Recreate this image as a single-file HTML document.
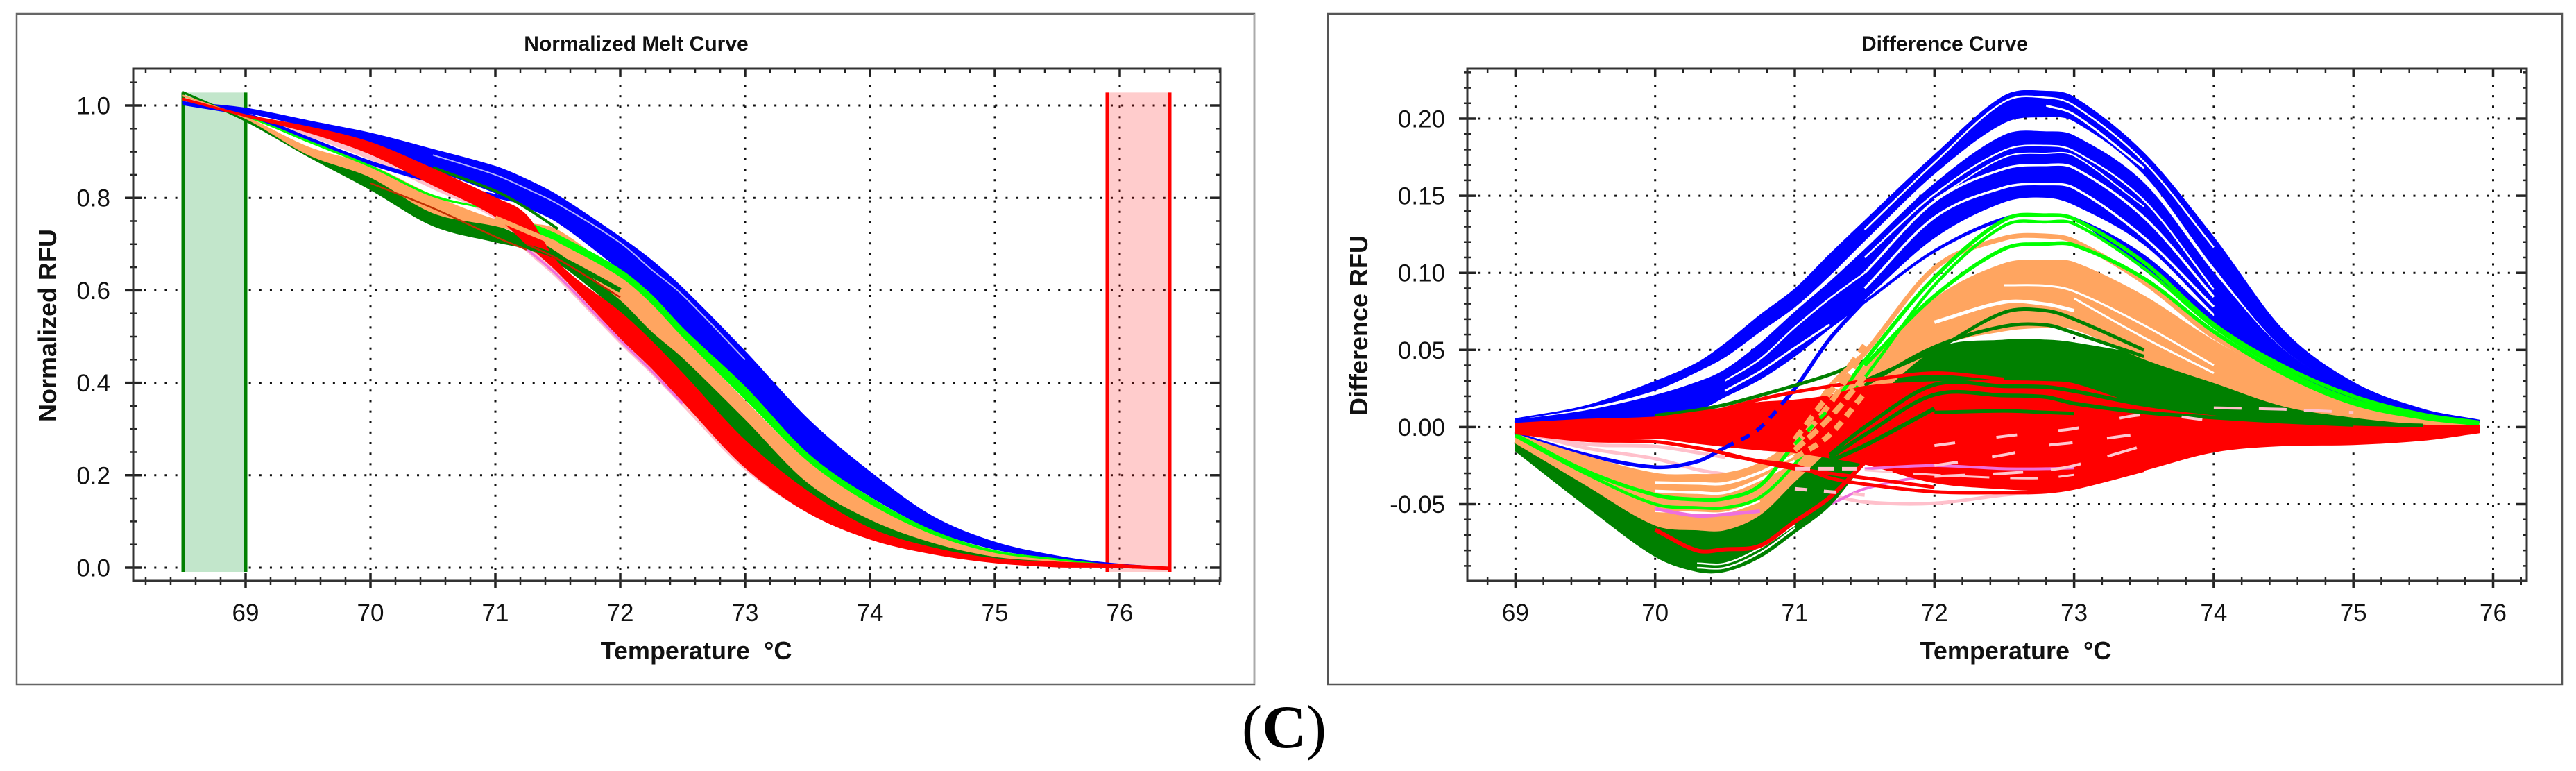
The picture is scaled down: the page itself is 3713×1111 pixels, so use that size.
<!DOCTYPE html>
<html lang="en">
<head>
<meta charset="utf-8">
<title>Normalized Melt Curve and Difference Curve</title>
<style>
html,body{margin:0;padding:0;background:#fff;}
svg{display:block;}
text{font-family:"Liberation Sans",sans-serif;fill:#111;}
.tick{font-size:35px;}
.axt{font-size:36px;font-weight:bold;}
.ttl{font-size:30px;font-weight:bold;}
</style>
</head>
<body>
<svg id="figure" xmlns="http://www.w3.org/2000/svg" width="3713" height="1111" viewBox="0 0 3713 1111">
  <rect x="0" y="0" width="3713" height="1111" fill="#fff"/>

  <g id="panelMelt">
    <rect x="24" y="20" width="1784" height="966" fill="#fff" stroke="#666" stroke-width="2.5"/>
    <line x1="1808" y1="20" x2="1808" y2="986" stroke="#aaa" stroke-width="2.5"/>
    <text class="ttl" x="917" y="73" text-anchor="middle">Normalized Melt Curve</text>
    <text class="axt" x="1003.5" y="950" text-anchor="middle">Temperature&#160;&#160;°C</text>
    <text class="axt" transform="translate(81,469) rotate(-90)" text-anchor="middle">Normalized RFU</text>
    <g id="plotMelt"></g>
  </g>

  <g id="panelDiff">
    <rect x="1914" y="20" width="1779" height="966" fill="#fff" stroke="#555" stroke-width="2.5"/>
    <text class="ttl" x="2803" y="73" text-anchor="middle">Difference Curve</text>
    <text class="axt" x="2905.5" y="950" text-anchor="middle">Temperature&#160;&#160;°C</text>
    <text class="axt" transform="translate(1971,469) rotate(-90)" text-anchor="middle">Difference RFU</text>
    <g id="plotDiff"></g>
  </g>

  <text x="1851" y="1077" text-anchor="middle" style="font-family:'Liberation Serif',serif;font-size:88px;fill:#000;">(<tspan font-weight="bold">C</tspan>)</text>
</svg>

<script>
// ---------- shared ----------
const n = null;

// ---------- melt chart data ----------
const meltTickX = [69, 70, 71, 72, 73, 74, 75, 76];
const meltTickY = ['0.0', '0.2', '0.4', '0.6', '0.8', '1.0'];
const meltGreenWindow = [68.5, 69];
const meltRedWindow = [75.9, 76.4];
const meltWindowRange = [-0.009, 1.028];

const meltTemps = [68.5, 69, 69.5, 70, 70.5, 71, 71.25, 71.5, 72, 72.25, 72.5, 73, 73.5, 74, 74.5, 75, 75.5, 75.9, 76.4];
const meltBlueHi = [1.008, .994, .967, .94, .905, .868, .84, .805, .715, .665, .605, .4675, .322, .207, .111, .055, .025, .01, 0];
const meltBlueLo = [1.005, .985, .954, .92, .863, .811, .78, .747, .645, .59, .518, .39, .246, .155, .082, .04, .02, .008, -.001];
const meltBlueStray = [1.005, .98, .928, .876, .836, .804, .79, n, n, n, n, n, n, n, n, n, n, n, n];
const meltBlueGap = [n, n, n, n, .893, .85, .82, .787, .703, .645, .59, .45, n, n, n, n, n, n, n];
const meltLimeHi = [1.012, .977, .924, .87, .806, .773, .748, .72, .645, .59, .518, .391, .247, .152, .08, .037, .019, .007, 0];
const meltLimeLo = [1.012, .976, .921, .867, .803, .77, .735, .705, .63, .5725, .5, .365, .232, .139, .073, .033, .017, .006, 0];
const meltOrangeHi = [1.02, .975, .91, .87, .805, .753, .745, .73, .63, .5725, .5, .36, .23, .137, .072, .032, .016, .006, 0];
const meltOrangeLo = [1.022, .972, .894, .845, .768, .74, .72, .683, .58, .5125, .455, .322, .185, .105, .055, .0245, .014, .005, -.001];
const meltGreenHi = [1.03, .97, .905, .845, .768, .74, .71, .683, .58, .5125, .455, .322, .185, .105, .055, .0245, .014, .005, -.001];
const meltGreenLo = [1.027, .966, .89, .818, .74, .705, .69, .66, .5526, .49, .42, .275, .165, .085, .043, .0195, .012, .005, -.002];
const meltRedHi = [1.016, .98, .954, .92, .863, .8, .762, .66, .5526, .49, .42, .275, .165, .085, .043, .0195, .012, .008, .001];
const meltRedLo = [1.012, .976, .942, .895, .828, .76, .7, .64, .4975, .4324, .36, .217, .12, .062, .03, .011, .002, .001, -.004];
const meltPinkLo = [1.012, .975, .934, .883, .82, .755, .685, .625, .485, .42, .35, .212, .12, .062, .03, .011, .002, .001, -.004];
const meltMagenta = [n, n, n, n, n, n, .69, .632, .492, .426, .355, n, n, n, n, n, n, n, n];
const meltGreenSliver = [n, n, n, n, .866, .815, .778, .733, n, n, n, n, n, n, n, n, n, n, n];
const meltGreenCross = [n, n, n, n, n, n, .695, .672, .6, n, n, n, n, n, n, n, n, n, n];
const meltOrangeCross = [n, n, n, n, n, .757, .728, .7, n, n, n, n, n, n, n, n, n, n, n];
const meltRedThinA = [n, n, n, .832, .778, .716, .688, n, n, n, n, n, n, n, n, n, n, n, n];
const meltRedThinB = [n, n, n, n, n, n, .7, .668, .585, n, n, n, n, n, n, n, n, n, n];

// ---------- difference chart data ----------
const diffTickX = [69, 70, 71, 72, 73, 74, 75, 76];
const diffTickY = ['-0.05', '0.00', '0.05', '0.10', '0.15', '0.20'];

const diffTemps = [69, 69.5, 70, 70.3, 70.5, 70.75, 71, 71.25, 71.5, 72, 72.5, 72.8, 73, 73.5, 74, 74.5, 75, 75.5, 75.9];

const diffBlueTopHi = [.0054, .0137, .0296, .0415, .054, .0725, .0895, .112, .1337, .1764, .2147, .2177, .2138, .1776, .123, .0625, .0289, .0115, .0045];
const diffBlueTopLo = [.005, .0125, .024, .036, .0455, .062, .078, .0985, .121, .1645, .1975, .2012, .1985, .164, .104, .051, .024, .0105, .004];
const diffBlueMainHi = [.0045, .0105, .0205, .029, .037, .054, .0745, .094, .115, .1577, .1892, .1914, .1888, .158, .1, .05, .0235, .01, .004];
const diffBlueMainLo = [.0024, .0054, .0062, .0107, .0197, .031, .046, .064, .0804, .1134, .1344, .1375, .135, .102, .067, .037, .017, .007, .003];
const diffBlueStray = [-.0043, -.0178, -.026, -.0223, -.0133, -.0006, .025, .0572, .082, n, n, n, n, n, n, n, n, n, n];
const diffBlueDash = [n, n, n, n, -.0133, -.0006, .025, n, n, n, n, n, n, n, n, n, n, n, n];
const diffBlueGapTopA = [n, n, n, n, n, n, n, n, .128, .1715, .211, .2137, .2085, .172, .1165, n, n, n, n];
const diffBlueGapTopB = [n, n, n, n, n, n, n, n, n, n, n, .2085, .2027, .168, n, n, n, n, n];
const diffBlueGapA = [n, n, n, n, n, n, n, n, .11, .151, .1795, .1825, .179, .147, .0892, n, n, n, n];
const diffBlueGapB = [n, n, n, n, n, n, n, n, n, .1477, .175, .1775, .176, .143, n, n, n, n, n];
const diffBlueGapC = [n, n, n, n, n, n, n, n, .1, .1464, .1675, .17, .168, .136, .0844, n, n, n, n];
const diffBlueGapD = [n, n, n, n, n, n, n, n, .09, .136, .1554, .1575, .155, .123, .078, n, n, n, n];
const diffBlueGapE = [n, n, n, n, .03, .044, .0647, .0834, .1, n, n, n, n, n, n, n, n, n, n];
const diffBlueGapF = [n, n, n, n, .0235, .036, .0515, .0665, n, n, n, n, n, n, n, n, n, n, n];
const diffBlueWedgeHi = [n, n, n, n, n, n, n, n, .0825, .1224, .1457, .1486, .1438, .118, .0735, n, n, n, n];
const diffBlueWedgeLo = [n, n, n, n, n, n, n, n, .0825, .1155, .1365, .1385, .1365, .112, .072, n, n, n, n];

const diffOrangeHi = [-.0058, -.02, -.0313, -.032, -.0313, -.0246, -.012, .018, .04, .0833, .106, .1082, .1067, .085, .056, .033, .0129, .005, .002];
const diffOrangeLo = [-.0103, -.0373, -.0636, -.0666, -.0666, -.0568, -.0351, -.014, .0114, .0505, .0624, .0645, .0635, .0442, .0289, .0137, .0064, .002, .0014];
const diffOrangeLine = [-.0058, -.02, -.0313, -.032, -.0313, -.0246, -.008, .026, .048, .103, .1224, .1239, .1205, .094, .0587, .035, .0135, .005, .002];
const diffOrangeGapA = [n, n, -.036, -.0365, -.0365, -.0295, -.018, n, n, n, n, n, n, n, n, n, n, n, n];
const diffOrangeGapB = [n, n, -.0415, -.0425, -.0425, -.034, -.022, n, n, n, n, n, n, n, n, n, n, n, n];
const diffOrangeGapC = [n, n, n, n, n, n, n, n, n, .068, .081, .0797, .0755, n, n, n, n, n, n];
const diffOrangeGapD = [n, n, n, n, n, n, n, n, n, n, .092, .0917, .088, .066, .04, n, n, n, n];
const diffOrangeGapE = [n, n, -.0545, -.0555, -.0555, -.048, n, n, n, n, n, n, n, n, n, n, n, n, n];
const diffOrangeGapF = [n, n, n, n, n, n, n, n, n, n, n, n, .0835, .058, .035, n, n, n, n];
const diffOrangeDashA = [n, n, n, n, n, n, -.012, .015, .05, n, n, n, n, n, n, n, n, n, n];
const diffOrangeDashB = [n, n, n, n, n, n, -.015, .006, .033, n, n, n, n, n, n, n, n, n, n];
const diffOrangeDashC = [n, n, n, n, n, n, -.008, .022, .053, n, n, n, n, n, n, n, n, n, n];
const diffOrangeDashD = [n, n, n, n, n, n, -.02, -.005, .022, n, n, n, n, n, n, n, n, n, n];

const diffLimeA = [-.005, -.0283, -.044, -.047, -.0463, -.038, -.011, .012, .043, .097, .1344, .1374, .135, .1069, .0667, .0394, .02, .008, .003];
const diffLimeB = [-.0058, -.03, -.05, -.0523, -.0523, -.0456, -.024, .005, .032, .092, .1306, .133, .1318, .103, .065, .037, .0175, .007, .003];
const diffLimeC = [n, n, n, n, n, n, n, n, .04, .085, .1156, .1187, .118, .0964, .0619, .0345, .0153, .006, .002];
const diffLimeDash = [n, n, n, n, n, n, -.011, .012, n, n, n, n, n, n, n, n, n, n, n];

const diffGreenHi = [-.0103, -.0373, -.0636, -.0666, -.0666, -.0568, -.0351, -.014, .0114, .05, .0564, .0564, .0546, .0458, .0289, .0137, .0064, .002, .001];
const diffGreenLo = [-.0155, -.0508, -.0838, -.0936, -.0936, -.0846, -.0685, -.051, -.024, .015, .025, .024, .02, .012, .007, .003, .001, 0, 0];
const diffGreenEarly = [n, n, .0075, .011, .0145, .0205, .027, .034, .043, n, n, n, n, n, n, n, n, n, n];
const diffGreenHighA = [n, n, n, n, n, n, n, n, .03, .05, .0744, .0755, .07, .05, n, n, n, n, n];
const diffGreenHighB = [n, n, n, n, n, n, n, n, .027, .052, .0654, .0662, .061, .0458, n, n, n, n, n];
const diffGreenStreakA = [n, n, n, n, n, n, n, -.018, 0, .0275, .0265, .026, .0233, .0145, .0088, .0045, .0022, .001, n];
const diffGreenStreakB = [n, n, n, n, n, n, n, -.02, -.005, .021, .0205, .0195, .0153, .0095, .0062, .0035, .0015, n, n];
const diffGreenStreakC = [n, n, n, n, n, n, n, n, n, .0095, .0105, .0095, .0088, n, n, n, n, n, n];
const diffGreenStreakD = [n, n, n, n, n, n, n, -.022, -.012, .012, n, n, n, n, n, n, n, n, n];
const diffGreenGapA = [n, n, n, -.0884, -.0884, -.0785, -.0635, n, n, n, n, n, n, n, n, n, n, n, n];
const diffGreenGapB = [n, n, n, -.0912, -.0912, -.0815, -.0655, n, n, n, n, n, n, n, n, n, n, n, n];

const diffRedHi = [.0024, .005, .0065, .01, .0125, .016, .0175, .0205, .0264, .0294, .03, .0295, .028, .0137, .0088, .004, .0016, .0008, .0012];
const diffRedLo = [-.0036, -.0088, -.0073, -.0105, -.0125, -.0148, -.0165, -.02, -.024, -.036, -.04, -.041, -.0387, -.028, -.0161, -.012, -.0113, -.0085, -.0037];
const diffRedLineA = [-.0036, -.0085, -.0095, -.0135, -.017, -.0226, -.027, -.03, -.033, -.039, n, n, n, n, n, n, n, n, n];
const diffRedLineB = [n, n, n, n, -.018, -.022, -.025, -.033, -.037, -.042, -.0425, -.042, -.0395, -.028, n, n, n, n, n];
const diffRedSliver = [n, n, n, n, .012, .018, .0227, .0264, .03, .035, .031, n, n, n, n, n, n, n, n];
const diffRedTrough = [n, n, -.0666, -.08, -.0793, -.077, -.0613, -.0456, -.023, n, n, n, n, n, n, n, n, n, n];
const diffRedGapA = [n, n, n, n, n, n, n, n, -.028, -.031, -.033, -.033, -.031, n, n, n, n, n, n];
const diffRedGapB = [n, n, n, n, n, n, n, n, n, -.025, -.018, -.012, -.01, -.004, n, n, n, n, n];
const diffRedGapC = [n, n, n, n, n, n, n, n, n, -.032, -.03, -.028, -.025, -.012, n, n, n, n, n];
const diffRedGapD = [n, n, n, n, n, n, n, n, n, -.012, -.006, -.003, -.001, .008, .004, n, n, n, n];

const diffPinkA = [-.002, -.011, -.0125, -.0165, -.0196, n, n, n, n, n, n, n, n, n, n, n, n, n, n];
const diffPinkB = [-.002, -.0135, -.0205, -.0276, -.0306, -.0343, -.0385, -.044, -.0486, -.0494, -.044, -.042, n, n, n, n, n, n, n];
const diffPinkDashA = [n, n, n, n, n, n, -.04, -.042, -.044, n, n, n, n, n, n, n, n, n, n];
const diffPinkDashB = [n, n, n, n, n, n, -.027, -.027, -.027, n, n, n, n, n, n, n, n, n, n];
const diffPinkDashC = [n, n, n, n, n, n, n, n, n, n, n, n, n, n, .0125, .0115, .0095, n, n];
const diffMagentaRise = [n, n, n, n, n, n, -.056, -.05, -.04, -.031, -.027, -.027, n, n, n, n, n, n, n];
const diffMagentaTrough = [n, n, -.053, -.0576, -.0566, -.0545, n, n, n, n, n, n, n, n, n, n, n, n, n];
const diffMagentaOver = [n, n, n, n, n, n, n, n, -.027, -.025, -.027, -.027, -.0265, n, n, n, n, n, n];

// ---------- colours ----------
const BLUE = '#0000ff', LIME = '#00ff00', ORANGE = '#ffa560', GREEN = '#008000', RED = '#ff0000', PINK = '#ffc0cb', MAGENTA = '#ee70dd', WHITE = '#ffffff';

// ---------- helpers ----------
const SVGNS = 'http://www.w3.org/2000/svg';
function mk(tag, attrs, parent) {
  const el = document.createElementNS(SVGNS, tag);
  for (const k in attrs) el.setAttribute(k, attrs[k]);
  parent.appendChild(el);
  return el;
}
function linear(d0, d1, r0, r1) {
  return function (v) { return r0 + (v - d0) * (r1 - r0) / (d1 - d0); };
}
function curveSegments(pts) {
  let d = '';
  for (let i = 0; i < pts.length - 1; i++) {
    const p0 = pts[Math.max(i - 1, 0)], p1 = pts[i], p2 = pts[i + 1], p3 = pts[Math.min(i + 2, pts.length - 1)];
    const h = p2[0] - p1[0];
    const m1 = (p2[1] - p0[1]) / (p2[0] - p0[0]);
    const m2 = (p3[1] - p1[1]) / (p3[0] - p1[0]);
    d += ' C' + (p1[0] + h / 3).toFixed(1) + ' ' + (p1[1] + m1 * h / 3).toFixed(1) + ' ' +
      (p2[0] - h / 3).toFixed(1) + ' ' + (p2[1] - m2 * h / 3).toFixed(1) + ' ' +
      p2[0].toFixed(1) + ' ' + p2[1].toFixed(1);
  }
  return d;
}
function toRuns(temps, vals, sx, sy) {
  const runs = [];
  let cur = [];
  vals.forEach(function (v, i) {
    if (v === null) {
      if (cur.length) runs.push(cur);
      cur = [];
    } else {
      cur.push([sx(temps[i]), sy(v)]);
    }
  });
  if (cur.length) runs.push(cur);
  return runs;
}
function drawBand(parent, temps, hi, lo, sx, sy, color, name, edge) {
  const up = toRuns(temps, hi, sx, sy)[0];
  const dn = toRuns(temps, lo, sx, sy)[0].reverse();
  const d = 'M' + up[0][0].toFixed(1) + ' ' + up[0][1].toFixed(1) + curveSegments(up) +
    ' L' + dn[0][0].toFixed(1) + ' ' + dn[0][1].toFixed(1) + curveSegments(dn) + ' Z';
  const el = mk('path', { d: d, fill: color, stroke: color, 'stroke-width': edge === undefined ? 1.5 : edge, 'stroke-linejoin': 'round' }, parent);
  
  
  return el;
}
function drawLine(parent, temps, vals, sx, sy, color, width, name, dash) {
  let d = '';
  toRuns(temps, vals, sx, sy).forEach(function (run) {
    d += 'M' + run[0][0].toFixed(1) + ' ' + run[0][1].toFixed(1) + curveSegments(run) + ' ';
  });
  const el = mk('path', { d: d, fill: 'none', stroke: color, 'stroke-width': width, 'stroke-linecap': 'butt' }, parent);
  if (dash) el.setAttribute('stroke-dasharray', dash);
  
  
  return el;
}
function drawFrameAxes(parent, box, sx, sy, xLabels, yLabels, xMinorFrom, xMinorTo, yMinorFrom, yMinorTo, yMinorStep, yLabelRight, prefix) {
  const AX = '#222';
  xLabels.forEach(function (t) {
    const g = mk('line', { x1: sx(t), y1: box.bottom, x2: sx(t), y2: box.top, stroke: '#111', 'stroke-width': 3, 'stroke-dasharray': '3 12.15' }, parent);
    
    
  });
  yLabels.forEach(function (t) {
    const g = mk('line', { x1: box.left, y1: sy(parseFloat(t)), x2: box.right, y2: sy(parseFloat(t)), stroke: '#111', 'stroke-width': 3, 'stroke-dasharray': '3 12.15' }, parent);
    
    
  });
  for (let i = xMinorFrom; i <= xMinorTo; i++) {
    const x = sx(i / 5);
    const major = i % 5 === 0;
    const b = mk('line', { x1: x, y1: box.bottom - (major ? 12 : 5), x2: x, y2: box.bottom + (major ? 11 : 6), stroke: AX, 'stroke-width': major ? 3.5 : 2.5 }, parent);
    
    
    const t = mk('line', { x1: x, y1: box.top, x2: x, y2: box.top + (major ? 12 : 6), stroke: AX, 'stroke-width': major ? 3.5 : 2.5 }, parent);
    
    
  }
  for (let i = yMinorFrom; i <= yMinorTo; i++) {
    const v = i * yMinorStep;
    const y = sy(v);
    const major = yLabels.some(function (l) { return Math.abs(parseFloat(l) - v) < 1e-6; });
    const l = mk('line', { x1: box.left - (major ? 12 : 5), y1: y, x2: box.left + (major ? 12 : 5), y2: y, stroke: AX, 'stroke-width': major ? 3.5 : 2.5 }, parent);
    
    
    const r = mk('line', { x1: box.right - (major ? 15 : 6), y1: y, x2: box.right, y2: y, stroke: AX, 'stroke-width': major ? 3.5 : 2.5 }, parent);
    
    
  }
  xLabels.forEach(function (t) {
    const el = mk('text', { x: sx(t), y: 895, 'text-anchor': 'middle', class: 'tick' }, parent);
    el.textContent = String(t);
    
    
  });
  yLabels.forEach(function (t) {
    const el = mk('text', { x: yLabelRight, y: sy(parseFloat(t)) + 12.5, 'text-anchor': 'end', class: 'tick' }, parent);
    el.textContent = t;
    
    
  });
}
function drawBorder(parent, box, prefix) {
  const el = mk('rect', { x: box.left, y: box.top, width: box.right - box.left, height: box.bottom - box.top, fill: 'none', stroke: '#333', 'stroke-width': 3 }, parent);
  
  
}
function drawWindow(parent, range, yRange, sx, sy, fill, edge, name) {
  const r = mk('rect', { x: sx(range[0]), y: sy(yRange[1]), width: sx(range[1]) - sx(range[0]), height: sy(yRange[0]) - sy(yRange[1]), fill: fill }, parent);
  
  
  range.forEach(function (t) {
    const e = mk('line', { x1: sx(t), y1: sy(yRange[1]), x2: sx(t), y2: sy(yRange[0]), stroke: edge, 'stroke-width': 5 }, parent);
    
    
  });
}

// ---------- melt chart ----------
(function () {
  const g = document.getElementById('plotMelt');
  const box = { left: 192, right: 1759, top: 99, bottom: 837 };
  const sx = linear(69, 76, 354, 1614);
  const sy = linear(0, 1, 818, 152);
  const t = meltTemps;
  drawFrameAxes(g, box, sx, sy, meltTickX, meltTickY, 341, 384, 0, 21, 0.05, 159, 'melt');
  drawBorder(g, box, 'melt');
  drawWindow(g, meltGreenWindow, meltWindowRange, sx, sy, '#c2e6cb', GREEN, 'normalization-start-window');
  drawWindow(g, meltRedWindow, meltWindowRange, sx, sy, 'rgba(255,0,0,0.2)', RED, 'normalization-end-window');

  drawBand(g, t, meltRedLo, meltPinkLo, sx, sy, PINK, 'melt-pink-series-band');
  drawBand(g, t, meltBlueHi, meltBlueLo, sx, sy, BLUE, 'melt-blue-series-band');
  drawLine(g, t, meltBlueStray, sx, sy, BLUE, 6, 'melt-blue-outlier-curve');
  drawBand(g, t, meltGreenHi, meltGreenLo, sx, sy, GREEN, 'melt-green-series-band');
  drawBand(g, t, meltOrangeHi, meltOrangeLo, sx, sy, ORANGE, 'melt-orange-series-band');
  drawBand(g, t, meltLimeHi, meltLimeLo, sx, sy, LIME, 'melt-lime-series-band');
  drawLine(g, t, meltGreenSliver, sx, sy, GREEN, 4, 'melt-green-upper-curve');
  drawBand(g, t, meltRedHi, meltRedLo, sx, sy, RED, 'melt-red-series-band');
  drawLine(g, t, meltMagenta, sx, sy, MAGENTA, 3.5, 'melt-magenta-curve');
  drawLine(g, t, meltOrangeCross, sx, sy, ORANGE, 7, 'melt-orange-crossing-curve');
  drawLine(g, t, meltGreenCross, sx, sy, GREEN, 7, 'melt-green-crossing-curve');
  drawLine(g, t, meltRedThinA, sx, sy, '#c03000', 2.5, 'melt-red-thin-curve-a');
  drawLine(g, t, meltRedThinB, sx, sy, '#c82000', 2.5, 'melt-red-thin-curve-b');
  drawLine(g, t, meltBlueGap, sx, sy, '#b0b0ff', 2, 'melt-blue-band-gap');
})();

// ---------- difference chart ----------
(function () {
  const g = document.getElementById('plotDiff');
  const box = { left: 2115, right: 3642, top: 99, bottom: 837 };
  const sx = linear(69, 76, 2184.4, 3593.5);
  const sy = linear(0, 0.2, 615.4, 171);
  const t = diffTemps;
  drawFrameAxes(g, box, sx, sy, diffTickX, diffTickY, 344, 381, -9, 23, 0.01, 2083, 'difference');
  drawBorder(g, box, 'difference');

  drawLine(g, t, diffPinkA, sx, sy, PINK, 5, 'difference-pink-curve-a');
  drawLine(g, t, diffPinkB, sx, sy, PINK, 5, 'difference-pink-curve-b');
  drawLine(g, t, diffMagentaRise, sx, sy, MAGENTA, 4, 'difference-magenta-rising-curve');
  drawBand(g, t, diffBlueTopHi, diffBlueTopLo, sx, sy, BLUE, 'difference-blue-top-band');
  drawBand(g, t, diffBlueMainHi, diffBlueMainLo, sx, sy, BLUE, 'difference-blue-main-band');
  drawLine(g, t, diffBlueGapTopA, sx, sy, WHITE, 2.5, 'difference-blue-gap');
  drawLine(g, t, diffBlueGapTopB, sx, sy, WHITE, 3, 'difference-blue-gap');
  drawLine(g, t, diffBlueGapA, sx, sy, WHITE, 2.5, 'difference-blue-gap');
  drawLine(g, t, diffBlueGapB, sx, sy, WHITE, 2, 'difference-blue-gap');
  drawLine(g, t, diffBlueGapC, sx, sy, WHITE, 3.5, 'difference-blue-gap');
  drawLine(g, t, diffBlueGapD, sx, sy, WHITE, 3.5, 'difference-blue-gap');
  drawLine(g, t, diffBlueGapE, sx, sy, WHITE, 2.5, 'difference-blue-gap');
  drawLine(g, t, diffBlueGapF, sx, sy, WHITE, 3, 'difference-blue-gap');
  drawBand(g, t, diffBlueWedgeHi, diffBlueWedgeLo, sx, sy, WHITE, 'difference-blue-lower-gap', 0.5);
  drawLine(g, t, diffBlueStray, sx, sy, BLUE, 5.5, 'difference-blue-outlier-curve');
  drawLine(g, t, diffGreenEarly, sx, sy, GREEN, 5, 'difference-green-early-curve');

  drawBand(g, t, diffGreenHi, diffGreenLo, sx, sy, GREEN, 'difference-green-series-band');
  drawLine(g, t, diffGreenGapA, sx, sy, WHITE, 2.5, 'difference-green-gap');
  drawLine(g, t, diffGreenGapB, sx, sy, WHITE, 2.5, 'difference-green-gap');
  drawBand(g, t, diffOrangeHi, diffOrangeLo, sx, sy, ORANGE, 'difference-orange-series-band');
  drawLine(g, t, diffOrangeLine, sx, sy, ORANGE, 7, 'difference-orange-upper-curve');
  drawLine(g, t, diffOrangeGapA, sx, sy, WHITE, 4, 'difference-orange-gap');
  drawLine(g, t, diffOrangeGapB, sx, sy, WHITE, 4, 'difference-orange-gap');
  drawLine(g, t, diffOrangeGapC, sx, sy, WHITE, 5, 'difference-orange-gap');
  drawLine(g, t, diffOrangeGapD, sx, sy, WHITE, 3, 'difference-orange-gap');
  drawLine(g, t, diffOrangeGapE, sx, sy, WHITE, 3, 'difference-orange-gap');
  drawLine(g, t, diffOrangeGapF, sx, sy, WHITE, 3, 'difference-orange-gap');
  drawLine(g, t, diffMagentaTrough, sx, sy, MAGENTA, 5, 'difference-magenta-trough-curve');
  drawLine(g, t, diffLimeA, sx, sy, LIME, 5.5, 'difference-lime-curve-a');
  drawLine(g, t, diffLimeB, sx, sy, LIME, 4.5, 'difference-lime-curve-b');
  drawLine(g, t, diffLimeC, sx, sy, LIME, 5.5, 'difference-lime-curve-c');
  drawLine(g, t, diffGreenHighA, sx, sy, GREEN, 5, 'difference-green-high-curve-a');
  drawLine(g, t, diffGreenHighB, sx, sy, GREEN, 5, 'difference-green-high-curve-b');

  drawBand(g, t, diffRedHi, diffRedLo, sx, sy, RED, 'difference-red-series-band');
  drawLine(g, t, diffRedLineA, sx, sy, RED, 5, 'difference-red-lower-curve-a');
  drawLine(g, t, diffRedLineB, sx, sy, RED, 5, 'difference-red-lower-curve-b');
  drawLine(g, t, diffRedSliver, sx, sy, RED, 5, 'difference-red-upper-curve');
  drawLine(g, t, diffRedTrough, sx, sy, RED, 6, 'difference-red-trough-curve');

  drawLine(g, t, diffOrangeDashA, sx, sy, ORANGE, 8, 'difference-orange-overlap-curve', '18 10');
  drawLine(g, t, diffOrangeDashB, sx, sy, ORANGE, 8, 'difference-orange-overlap-curve', '18 8');
  drawLine(g, t, diffOrangeDashC, sx, sy, ORANGE, 8, 'difference-orange-overlap-curve', '16 10');
  drawLine(g, t, diffOrangeDashD, sx, sy, ORANGE, 8, 'difference-orange-overlap-curve', '14 10');
  drawLine(g, t, diffLimeDash, sx, sy, LIME, 5, 'difference-lime-overlap-curve', '12 14');
  drawLine(g, t, diffBlueDash, sx, sy, BLUE, 5.5, 'difference-blue-overlap-curve', '14 12');

  drawLine(g, t, diffGreenStreakA, sx, sy, GREEN, 5.5, 'difference-green-streak-a');
  drawLine(g, t, diffGreenStreakB, sx, sy, GREEN, 5.5, 'difference-green-streak-b');
  drawLine(g, t, diffGreenStreakC, sx, sy, GREEN, 5, 'difference-green-streak-c');
  drawLine(g, t, diffGreenStreakD, sx, sy, GREEN, 6, 'difference-green-streak-d');

  drawLine(g, t, diffMagentaOver, sx, sy, MAGENTA, 4, 'difference-magenta-overlap-curve');
  drawLine(g, t, diffRedGapA, sx, sy, '#ffc8d0', 3, 'difference-red-gap', '40 30');
  drawLine(g, t, diffRedGapB, sx, sy, '#ffc8d0', 4, 'difference-red-gap', '34 50');
  drawLine(g, t, diffRedGapC, sx, sy, '#ffc8d0', 4, 'difference-red-gap', '44 40');
  drawLine(g, t, diffRedGapD, sx, sy, '#ffc8d0', 4, 'difference-red-gap', '30 60');
  drawLine(g, t, diffPinkDashA, sx, sy, PINK, 5, 'difference-pink-overlap-curve', '18 24');
  drawLine(g, t, diffPinkDashB, sx, sy, PINK, 5, 'difference-pink-overlap-curve', '22 12');
  drawLine(g, t, diffPinkDashC, sx, sy, PINK, 4, 'difference-pink-overlap-curve', '40 25');
})();
</script>
</body>
</html>
